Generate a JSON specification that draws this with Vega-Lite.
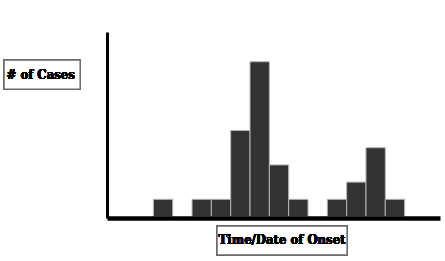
{
  "$schema": "https://vega.github.io/schema/vega-lite/v6.json",
  "width": 333,
  "height": 186,
  "autosize": {"type": "none"},
  "padding": {"left": 107, "top": 32, "right": 5, "bottom": 43},
  "background": "white",
  "config": {"view": {"stroke": null}},
  "data": {"values": [
    {"slot": 0, "cases": 1},
    {"slot": 2, "cases": 1},
    {"slot": 3, "cases": 1},
    {"slot": 4, "cases": 5},
    {"slot": 5, "cases": 9},
    {"slot": 6, "cases": 3},
    {"slot": 7, "cases": 1},
    {"slot": 9, "cases": 1},
    {"slot": 10, "cases": 2},
    {"slot": 11, "cases": 4},
    {"slot": 12, "cases": 1}
  ]},
  "layer": [
    {
      "transform": [{"calculate": "datum.slot + 1", "as": "slotEnd"}],
      "mark": {"type": "rect", "fill": "#333333", "stroke": "#b4b4b4", "strokeWidth": 1, "clip": false},
      "encoding": {
        "x": {"field": "slot", "type": "quantitative", "scale": {"domain": [-2.4, 14.83], "nice": false, "zero": false},
              "axis": {"title": null, "labels": false, "ticks": false, "grid": false, "domainColor": "black", "domainWidth": 4.5, "zindex": 1}},
        "x2": {"field": "slotEnd"},
        "y": {"field": "cases", "type": "quantitative", "scale": {"domain": [-0.087, 10.73], "nice": false, "zero": false},
              "axis": {"title": null, "labels": false, "ticks": false, "grid": false, "domainColor": "black", "domainWidth": 3, "zindex": 1}},
        "y2": {"datum": 0}
      }
    },
    {
      "mark": {"type": "rect", "fill": "white", "stroke": "#6a6a6a", "strokeWidth": 1.3, "clip": false},
      "encoding": {
        "x": {"datum": 3.295, "type": "quantitative"},
        "x2": {"datum": 10.02},
        "y": {"datum": -0.552, "type": "quantitative"},
        "y2": {"datum": -2.238}
      }
    },
    {
      "mark": {"type": "rect", "fill": "white", "stroke": "#6a6a6a", "strokeWidth": 1.3, "clip": false},
      "encoding": {
        "x": {"datum": -7.724, "type": "quantitative"},
        "x2": {"datum": -3.792},
        "y": {"datum": 9.099, "type": "quantitative"},
        "y2": {"datum": 7.413}
      }
    },
    {
      "mark": {"type": "text", "text": "Time/Date of Onset", "font": "DejaVu Serif Condensed", "fontWeight": "bold", "fontSize": 13, "color": "black", "align": "center", "baseline": "middle"},
      "encoding": {
        "x": {"datum": 6.658, "type": "quantitative"},
        "y": {"datum": -1.395, "type": "quantitative"}
      }
    },
    {
      "mark": {"type": "text", "text": "# of Cases", "font": "DejaVu Serif Condensed", "fontWeight": "bold", "fontSize": 13, "color": "black", "align": "center", "baseline": "middle"},
      "encoding": {
        "x": {"datum": -5.83, "type": "quantitative"},
        "y": {"datum": 8.256, "type": "quantitative"}
      }
    }
  ]
}
